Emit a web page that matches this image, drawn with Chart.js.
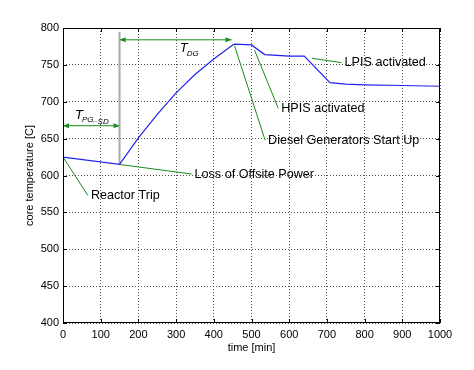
<!DOCTYPE html>
<html>
<head>
<meta charset="utf-8">
<script src="https://cdn.jsdelivr.net/npm/chart.js@4"></script>
<style>
  html, body { margin: 0; padding: 0; background: #fff; }
  #wrap { width: 474px; height: 370px; }
</style>
</head>
<body>
<div id="wrap"><canvas id="myChart" width="474" height="370"></canvas></div>
<script>
// core temperature curve
var timeMin = [0, 150, 200, 250, 300, 350, 400, 450, 455, 500, 535, 600, 640, 708, 750, 800, 900, 1000];
var coreTemp = [625, 615, 651, 683, 712, 737, 758, 777, 778, 777, 764, 762, 762, 726, 724, 723, 722, 721];

var xTicks = [0, 100, 200, 300, 400, 500, 600, 700, 800, 900, 1000];
var yTicks = [400, 450, 500, 550, 600, 650, 700, 750, 800];

// event labels: [from x, from y, to x, to y]
var eventNames = ["Reactor Trip", "Loss of Offsite Power", "Diesel Generators Start Up", "HPIS activated", "LPIS activated"];
var eventLines = [
  [0, 625, 66, 573],
  [150, 615, 341, 602],
  [455, 776, 536, 648],
  [508, 770, 571, 691],
  [660, 759, 739, 753]
];

// gray marker at loss of offsite power
var markLine = [150, 795, 150, 615];

// double arrows: [x1, x2, y], label pos [x, y]
var spanNames = [["PG", "SD"], ["DG", ""]];
var spanArrows = [
  [0, 150, 667.5],
  [150, 447, 784]
];
var spanLabelPos = [
  [32, 682],
  [310, 772]
];

var green = "#1a8a1a";
var fontName = '"Liberation Sans", Arial, sans-serif';

function segData(s) {
  return [{ x: s[0], y: s[1] }, { x: s[2], y: s[3] }];
}

var datasets = [
  {
    label: "core temperature",
    data: timeMin.map(function(t, i) { return { x: t, y: coreTemp[i] }; }),
    borderColor: "#2222ee",
    borderWidth: 1.2,
    pointRadius: 0,
    tension: 0
  },
  {
    label: "mark",
    data: segData(markLine),
    borderColor: "#a8a8a8",
    borderWidth: 2,
    pointRadius: 0
  }
];
for (var i = 0; i < eventLines.length; i++) {
  datasets.push({
    label: eventNames[i],
    data: segData(eventLines[i]),
    borderColor: green,
    borderWidth: 1,
    pointRadius: 0
  });
}
for (var i = 0; i < spanArrows.length; i++) {
  var a = spanArrows[i];
  datasets.push({
    label: "span" + i,
    data: segData([a[0], a[2], a[1], a[2]]),
    borderColor: green,
    borderWidth: 1,
    pointRadius: 0
  });
}

// box, inward ticks, arrowheads and text
var extrasPlugin = {
  id: "extras",
  afterDatasetsDraw: function(chart) {
    var ctx = chart.ctx;
    var xs = chart.scales.x;
    var ys = chart.scales.y;
    var area = chart.chartArea;
    ctx.save();

    // arrowheads
    ctx.fillStyle = green;
    for (var i = 0; i < spanArrows.length; i++) {
      var a = spanArrows[i];
      var py = ys.getPixelForValue(a[2]);
      var p1 = xs.getPixelForValue(a[0]);
      var p2 = xs.getPixelForValue(a[1]);
      ctx.beginPath();
      ctx.moveTo(p1, py); ctx.lineTo(p1 + 6, py - 2.5); ctx.lineTo(p1 + 6, py + 2.5); ctx.closePath();
      ctx.fill();
      ctx.beginPath();
      ctx.moveTo(p2, py); ctx.lineTo(p2 - 6, py - 2.5); ctx.lineTo(p2 - 6, py + 2.5); ctx.closePath();
      ctx.fill();
    }

    // event texts
    ctx.fillStyle = "#000";
    ctx.font = "12.6px " + fontName;
    ctx.textBaseline = "middle";
    ctx.textAlign = "left";
    for (var i = 0; i < eventLines.length; i++) {
      var e = eventLines[i];
      ctx.fillText(eventNames[i], xs.getPixelForValue(e[2]) + 3, ys.getPixelForValue(e[3]));
    }

    // T labels with subscripts
    for (var i = 0; i < spanNames.length; i++) {
      var px = xs.getPixelForValue(spanLabelPos[i][0]);
      var py = ys.getPixelForValue(spanLabelPos[i][1]);
      ctx.font = "italic 13px " + fontName;
      ctx.fillText("T", px, py);
      var w = ctx.measureText("T").width;
      ctx.font = "italic 8px " + fontName;
      ctx.fillText(spanNames[i][0], px + w - 1, py + 5);
      if (spanNames[i][1]) {
        var w2 = ctx.measureText(spanNames[i][0]).width;
        ctx.fillText("_", px + w - 1 + w2, py + 4);
        ctx.fillText(spanNames[i][1], px + w + w2 + 3, py + 7);
      }
    }

    // axes box
    ctx.strokeStyle = "#000";
    ctx.lineWidth = 1;
    ctx.strokeRect(Math.round(area.left) + 0.5, Math.round(area.top) + 0.5,
      Math.round(area.right - area.left) - 1, Math.round(area.bottom - area.top) - 1);

    // inward ticks on all sides
    ctx.beginPath();
    for (var i = 0; i < xTicks.length; i++) {
      var tx = Math.round(xs.getPixelForValue(xTicks[i])) + 0.5;
      ctx.moveTo(tx, area.bottom); ctx.lineTo(tx, area.bottom - 4);
      ctx.moveTo(tx, area.top); ctx.lineTo(tx, area.top + 4);
    }
    for (var i = 0; i < yTicks.length; i++) {
      var ty = Math.round(ys.getPixelForValue(yTicks[i])) + 0.5;
      ctx.moveTo(area.left, ty); ctx.lineTo(area.left + 4, ty);
      ctx.moveTo(area.right, ty); ctx.lineTo(area.right - 4, ty);
    }
    ctx.stroke();
    ctx.restore();
  }
};

function plainTick(v) {
  return String(v);
}

var ctx = document.getElementById("myChart").getContext("2d");
var myChart = new Chart(ctx, {
  type: "line",
  data: { datasets: datasets },
  options: {
    responsive: false,
    animation: false,
    events: [],
    layout: { padding: { left: 0, right: 34, top: 28, bottom: 0 } },
    plugins: { legend: { display: false }, tooltip: { enabled: false } },
    scales: {
      x: {
        type: "linear",
        min: 0,
        max: 1000,
        afterBuildTicks: function(scale) {
          scale.ticks = xTicks.map(function(v) { return { value: v }; });
        },
        afterFit: function(scale) { scale.height = 47; },
        border: { display: false, dash: [1, 2] },
        grid: { color: "#555", drawTicks: false, lineWidth: 1 },
        ticks: { color: "#000", padding: 5, maxRotation: 0, callback: plainTick, font: { family: fontName, size: 11 } },
        title: {
          display: true,
          text: "time [min]",
          color: "#000",
          padding: { top: 0, bottom: 15 },
          font: { family: fontName, size: 11 }
        }
      },
      y: {
        type: "linear",
        min: 400,
        max: 800,
        afterBuildTicks: function(scale) {
          scale.ticks = yTicks.map(function(v) { return { value: v }; });
        },
        afterFit: function(scale) { scale.width = 63; },
        border: { display: false, dash: [1, 2] },
        grid: { color: "#555", drawTicks: false, lineWidth: 1 },
        ticks: { color: "#000", padding: 4, callback: plainTick, font: { family: fontName, size: 11 } },
        title: {
          display: true,
          text: "core temperature [C]",
          color: "#000",
          padding: { top: 23, bottom: 0 },
          font: { family: fontName, size: 11 }
        }
      }
    }
  },
  plugins: [extrasPlugin]
});
</script>
</body>
</html>
